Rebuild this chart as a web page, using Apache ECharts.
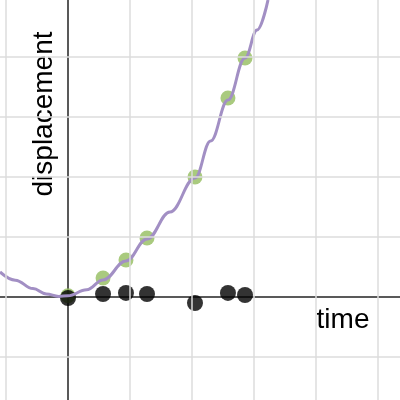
<!DOCTYPE html>
<html><head><meta charset="utf-8">
<script src="https://cdn.jsdelivr.net/npm/echarts@6/dist/echarts.min.js"></script>
<style>html,body{margin:0;background:#fff}#c{width:400px;height:400px}</style>
</head><body><div id="c"></div>
<script>
// measured data (grid units)
var greenPts = [[0, 0.02], [0.565, 0.317], [0.935, 0.617], [1.274, 0.983], [2.048, 2.0], [2.58, 3.317], [2.855, 3.983]];
var blackPts = [[0, -0.017], [0.565, 0.05], [0.935, 0.067], [1.274, 0.05], [2.048, -0.1], [2.58, 0.067], [2.855, 0.033]];
var curveX = [-1.097, -0.85, -0.565, -0.35, -0.15, 0, 0.3, 0.565, 0.935, 1.274, 1.645, 2.048, 2.3, 2.58, 2.855, 3.05, 3.226];
var curveY = [0.417, 0.28, 0.14, 0.05, 0.01, 0.02, 0.12, 0.283, 0.6, 0.967, 1.417, 1.983, 2.6, 3.283, 3.983, 4.45, 4.95];
var gridX = [-1, 1, 2, 3, 4, 5];
var gridY = [-1, 1, 2, 3, 4];

var curve = curveX.map(function (x, i) { return [x, curveY[i]]; });
var lines = gridX.map(function (v) { return {xAxis: v}; })
  .concat(gridY.map(function (v) { return {yAxis: v}; }));

var chart = echarts.init(document.getElementById('c'));
chart.setOption({
  animation: false,
  grid: {left: 0, right: 0, top: 0, bottom: 0},
  xAxis: {type: 'value', min: -1.097, max: 5.355, splitLine: {show: false},
    axisLabel: {show: false}, axisTick: {show: false},
    axisLine: {onZero: true, lineStyle: {color: '#222', width: 1.5}}},
  yAxis: {type: 'value', min: -1.717, max: 4.95, splitLine: {show: false},
    axisLabel: {show: false}, axisTick: {show: false},
    axisLine: {onZero: true, lineStyle: {color: '#222', width: 1.5}}},
  graphic: [
    {type: 'text', x: 44, y: 114, rotation: Math.PI / 2,
      style: {text: 'displacement', fill: '#000', font: '28px "Liberation Sans", Arial', align: 'center', verticalAlign: 'middle'}},
    {type: 'text', x: 343, y: 320,
      style: {text: 'time', fill: '#000', font: '28px "Liberation Sans", Arial', align: 'center', verticalAlign: 'middle'}}
  ],
  series: [
    {type: 'line', data: [], silent: true,
      markLine: {symbol: 'none', silent: true, label: {show: false},
        lineStyle: {color: '#dcdcdc', width: 1.5, type: 'solid'}, data: lines}},
    {type: 'line', data: curve, smooth: 0.4, smoothMonotone: 'x', showSymbol: false,
      lineStyle: {color: '#a28fc4', width: 3}},
    {type: 'scatter', data: greenPts, symbolSize: 15, itemStyle: {color: '#93bd5e'}},
    {type: 'scatter', data: blackPts, symbolSize: 16, itemStyle: {color: '#000'}}
  ]
});
</script></body></html>
